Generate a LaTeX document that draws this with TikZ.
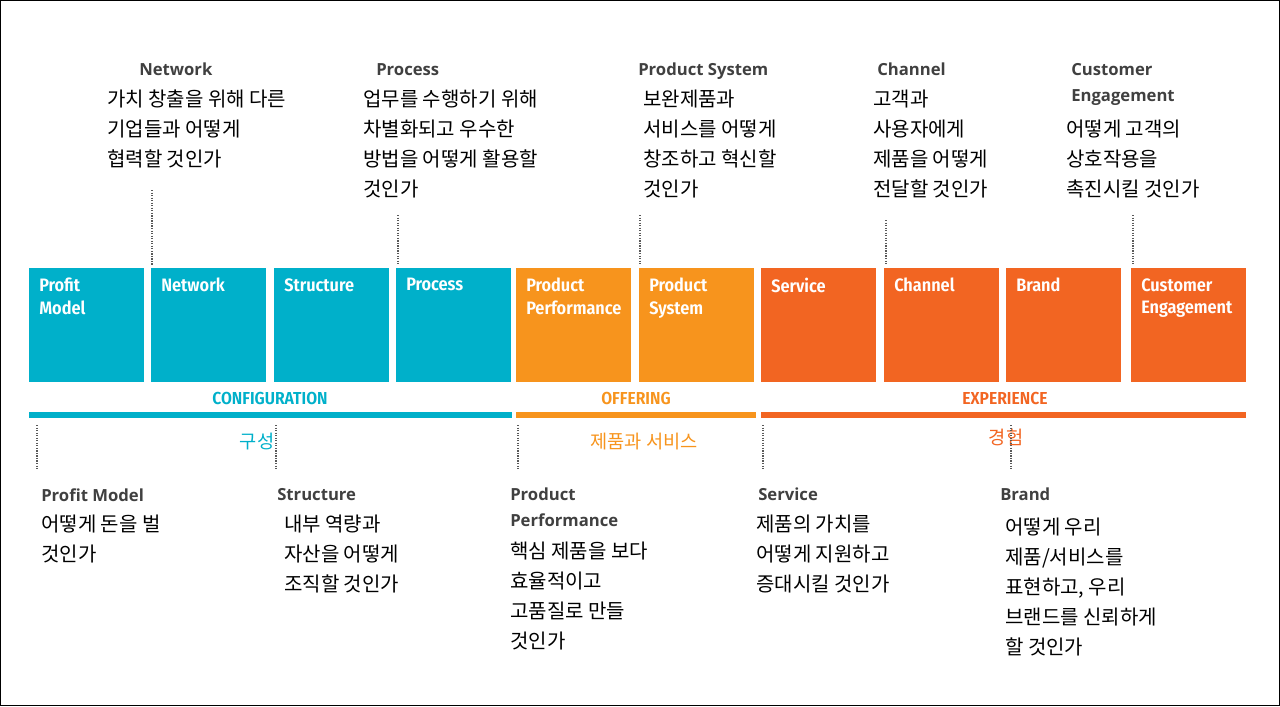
\documentclass[tikz,border=0pt]{standalone}
\usepackage{fontspec}
\setmainfont{Open Sans}
\newfontfamily\kr{Noto Sans CJK KR}
\newfontfamily\cond{Fira Sans Condensed}[BoldFont={Fira Sans Condensed SemiBold}]
\usetikzlibrary{positioning}
\definecolor{cfgc}{RGB}{0,176,202}
\definecolor{offc}{RGB}{247,148,29}
\definecolor{expc}{RGB}{242,101,34}
\tikzset{
  blk/.style={minimum width=86.25pt, minimum height=85.5pt, inner sep=0pt},
  blklbl/.style={anchor=north west, text=white, font=\cond\bfseries\fontsize{13.5}{17}\selectfont, align=left, inner sep=0pt},
  head/.style={anchor=north west, font=\bfseries\fontsize{12.5}{19.5}\selectfont, text=black!75, align=left, inner sep=0pt},
  desc/.style={anchor=north west, font=\kr\fontsize{15}{22.5}\selectfont, align=left, inner sep=0pt},
  grp/.style={font=\cond\bfseries\fontsize{13}{15}\selectfont},
  dots/.style={densely dotted, gray!70!black, line width=0.9pt},
  bar/.style={line width=4.5pt}
}
\begin{document}
\begin{tikzpicture}[x=0.75pt,y=-0.75pt]
\useasboundingbox (0,0) rectangle (1280,706);
\draw[line width=1pt] (0.5,0.5) rectangle (1279.5,705.5);
% Blocks
\foreach \x/\c/\n/\t in {29/cfgc/b1/{Profit\\Model},151/cfgc/b2/Network,274/cfgc/b3/Structure,396/cfgc/b4/Process,516/offc/b5/{Product\\Performance},639/offc/b6/{Product\\System},761/expc/b7/Service,884/expc/b8/Channel,1006/expc/b9/Brand,1131/expc/b10/{Customer\\Engagement}}{
  \node[blk, fill=\c, anchor=north west] (\n) at (\x,268) {};
  \node[blklbl] at (\x+10,278) {\t};
}
% Group bars
\draw[bar, cfgc] (29,415) -- (512,415);
\draw[bar, offc] (516,415) -- (756,415);
\draw[bar, expc] (761,415) -- (1246,415);
\node[grp, cfgc] (g1) at (270,398) {CONFIGURATION};
\node[grp, offc] (g2) at (636,398) {OFFERING};
\node[grp, expc] (g3) at (1005,398) {EXPERIENCE};
\node[font=\kr\fontsize{14}{16}\selectfont, cfgc] (k1) at (257,442) {구성};
\node[font=\kr\fontsize{14}{16}\selectfont, offc] (k2) at (644,442) {제품과 서비스};
\node[font=\kr\fontsize{14}{16}\selectfont, expc] (k3) at (1006,437) {경험};
% Top texts
\node[head] (hNet) at (139,63) {Network};
\node[desc] (dNet) at (107,90) {가치 창출을 위해 다른\\기업들과 어떻게\\협력할 것인가};
\node[head] (hPro) at (376,63) {Process};
\node[desc] (dPro) at (363,90) {업무를 수행하기 위해\\차별화되고 우수한\\방법을 어떻게 활용할\\것인가};
\node[head] (hSys) at (638,63) {Product System};
\node[desc] (dSys) at (643,90) {보완제품과\\서비스를 어떻게\\창조하고 혁신할\\것인가};
\node[head] (hCha) at (877,63) {Channel};
\node[desc] (dCha) at (873,90) {고객과\\사용자에게\\제품을 어떻게\\전달할 것인가};
\node[head] (hCus) at (1071,63) {Customer\\Engagement};
\node[desc] (dCus) at (1066,120) {어떻게 고객의\\상호작용을\\촉진시킬 것인가};
% Bottom texts
\node[head] (hPrf) at (41,488) {Profit Model};
\node[desc] (dPrf) at (41,515) {어떻게 돈을 벌\\것인가};
\node[head] (hStr) at (277,488) {Structure};
\node[desc] (dStr) at (284,515) {내부 역량과\\자산을 어떻게\\조직할 것인가};
\node[head] (hPer) at (510,488) {Product\\Performance};
\node[desc] (dPer) at (510,542) {핵심 제품을 보다\\효율적이고\\고품질로 만들\\것인가};
\node[head] (hSer) at (758,488) {Service};
\node[desc] (dSer) at (756,515) {제품의 가치를\\어떻게 지원하고\\증대시킬 것인가};
\node[head] (hBra) at (1000,488) {Brand};
\node[desc] (dBra) at (1005,518) {어떻게 우리\\제품/서비스를\\표현하고, 우리\\브랜드를 신뢰하게\\할 것인가};
% Dotted leaders
\foreach \x/\a/\b in {152/190/265,398/215/265,640/215/265,886/220/265,1133/215/265,37/425/470,276/425/470,518/425/470,763/425/470,1011/425/470}{
  \draw[dots] (\x,\a) -- (\x,\b);
}
\end{tikzpicture}
\end{document}
